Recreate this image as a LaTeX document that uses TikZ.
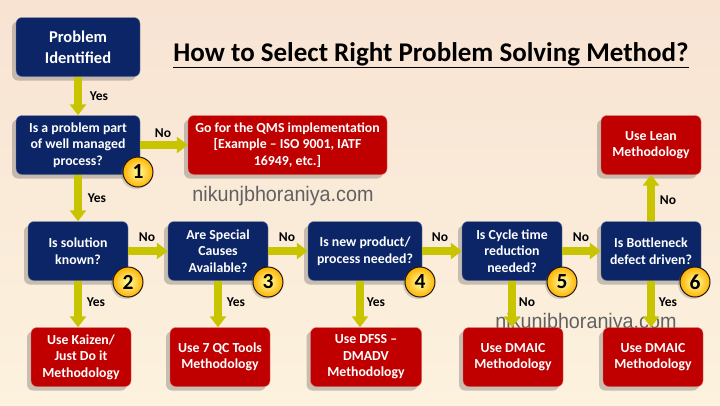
\documentclass[tikz,border=0pt]{standalone}
\usepackage{fontspec}
\setmainfont{Carlito}
\newfontfamily\markfont{Liberation Sans}
\usetikzlibrary{arrows.meta,shadows}
\definecolor{navy}{HTML}{0B2566}
\definecolor{redbox}{HTML}{C00000}
\definecolor{arrowyel}{HTML}{C8C400}
\definecolor{bgtop}{HTML}{F8E3D3}
\definecolor{bgbottom}{HTML}{FCF2DE}

\begin{document}
\begin{tikzpicture}[x=1pt,y=-1pt,
  box/.style={rounded corners=6pt, minimum height=59pt, minimum width=100pt,
    align=center, text=white, inner sep=2pt,
    font=\bfseries\fontsize{13.8}{16.5}\selectfont,
    drop shadow={shadow xshift=-4pt,shadow yshift=-4pt,opacity=0.3,fill=black!70}},
  ask/.style={box, fill=navy, draw=navy!60!white},
  use/.style={box, fill=redbox, draw=redbox!60!white},
  go/.style={line width=8pt, draw=arrowyel, -{Triangle[width=16pt,length=11pt]}},
  lbl/.style={inner sep=1pt, font=\bfseries\fontsize{13.5}{15}\selectfont},
  num/.style={circle, minimum size=30pt, inner sep=0pt, draw=black!80!brown,
    line width=1pt, inner color=yellow!35!white, outer color=orange!60!yellow,
    font=\bfseries\fontsize{21.5}{21.5}\selectfont,
    drop shadow={shadow xshift=-2pt,shadow yshift=-2pt,opacity=0.3}},
  wmark/.style={inner sep=0pt, text=black!62, font=\markfont\fontsize{21}{21}\selectfont}]
  \shade[top color=bgtop, bottom color=bgbottom] (0,0) rectangle (720,405);
  \useasboundingbox (0,0) rectangle (720,405);
  \node[wmark] (mark1) at (283,196) {\scalebox{0.94}[1]{nikunjbhoraniya.com}};
  \node[wmark, anchor=north] (mark2) at (586,313) {\scalebox{0.94}[1]{nikunjbhoraniya.com}};
  \node[font=\bfseries\fontsize{27}{27}\selectfont] (title) at (431,55)
    {\underline{How to Select Right Problem Solving Method?}};
  \node[ask, minimum width=124pt, font=\bfseries\fontsize{16.5}{21}\selectfont]
    (start) at (78,47) {Problem\\Identified};
  \node[ask, minimum width=124pt] (q1) at (78,145) {Is a problem part\\of well managed\\process?};
  \node[use, minimum width=199pt] (qms) at (287.5,145)
    {Go for the QMS implementation\\{}[Example -- ISO 9001, IATF\\16949, etc.]};
  \node[ask] (q2) at (78,251) {Is solution\\known?};
  \node[ask] (q3) at (218,251) {Are Special\\Causes\\Available?};
  \node[ask, minimum width=114pt] (q4) at (365,251) {Is new product/\\process needed?};
  \node[ask] (q5) at (512,251) {Is Cycle time\\reduction\\needed?};
  \node[ask] (q6) at (651,251) {Is Bottleneck\\defect driven?};
  \node[use] (lean) at (651,145) {Use Lean\\Methodology};
  \node[use] (kaizen) at (81,357) {Use Kaizen/\\Just Do it\\Methodology};
  \node[use] (qc) at (220,357) {Use 7 QC Tools\\Methodology};
  \node[use, minimum width=111pt] (dfss) at (366,357) {Use DFSS --\\DMADV\\Methodology};
  \node[use] (dmaic1) at (513,357) {Use DMAIC\\Methodology};
  \node[use] (dmaic2) at (653,357) {Use DMAIC\\Methodology};
  \draw[go] (start) -- (q1);
  \draw[go] (q1) -- (q2);
  \draw[go] (q1) -- (qms);
  \draw[go] (q2) -- (q3);
  \draw[go] (q3) -- (q4);
  \draw[go] (q4) -- (q5);
  \draw[go] (q5) -- (q6);
  \draw[go] (q6) -- (lean);
  \draw[go] (q2.south) -- (q2.south |- kaizen.north);
  \draw[go] (q3.south) -- (q3.south |- qc.north);
  \draw[go] ([xshift=-5pt]q4.south) -- ([xshift=-5pt]q4.south |- dfss.north);
  \draw[go] (q5.south) -- (q5.south |- dmaic1.north);
  \draw[go] (q6.south) -- (q6.south |- dmaic2.north);
  \node[num] (n1) at (138,172) {1};
  \node[num] (n2) at (128,282) {2};
  \node[num] (n3) at (268,282) {3};
  \node[num] (n4) at (420,282) {4};
  \node[num] (n5) at (562,282) {5};
  \node[num] (n6) at (695,282) {6};
  \node[lbl] (yes1) at (99,96) {Yes};
  \node[lbl] (yes2) at (97,198) {Yes};
  \node[lbl] (no1) at (163,133) {No};
  \node[lbl] (no2) at (147,237) {No};
  \node[lbl] (no3) at (287,237) {No};
  \node[lbl] (no4) at (440,237) {No};
  \node[lbl] (no5) at (581,237) {No};
  \node[lbl] (no6) at (668,200) {No};
  \node[lbl] (yes3) at (96,302) {Yes};
  \node[lbl] (yes4) at (236,302) {Yes};
  \node[lbl] (yes5) at (376,302) {Yes};
  \node[lbl] (no7) at (527,302) {No};
  \node[lbl] (yes6) at (668,302) {Yes};
\end{tikzpicture}
\end{document}
